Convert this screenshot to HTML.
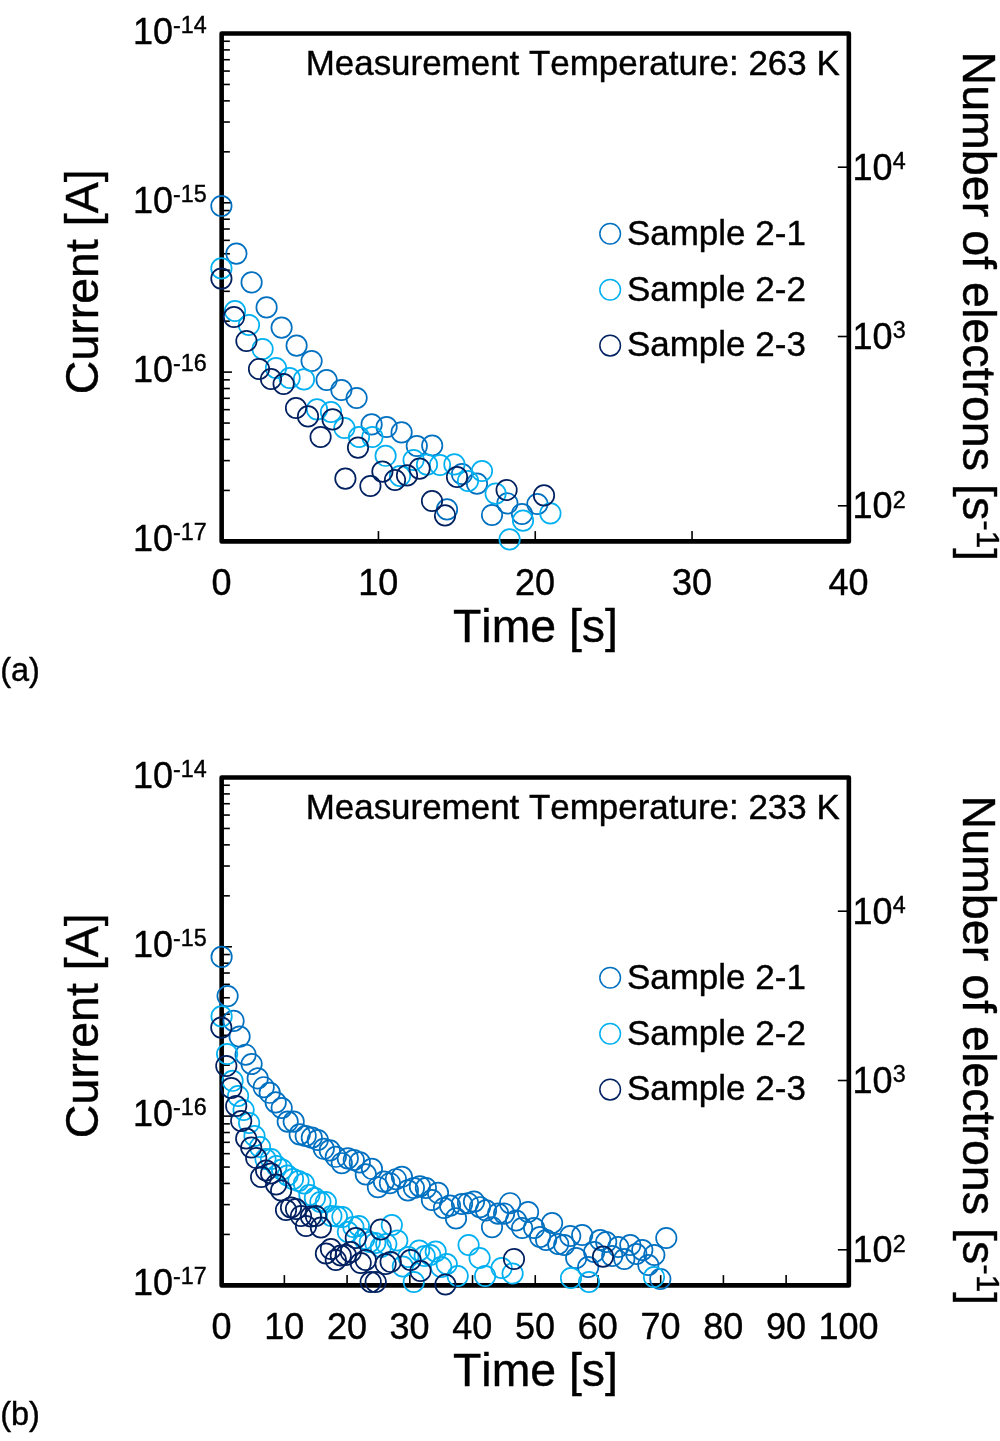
<!DOCTYPE html>
<html><head><meta charset="utf-8"><title>Current decay</title>
<style>
html,body{margin:0;padding:0;background:#fff}
body{width:1000px;height:1441px;overflow:hidden}
svg{display:block}
text{font-family:"Liberation Sans",sans-serif;fill:#000;font-kerning:none;stroke:#000;stroke-width:0.4px}
</style></head><body>
<svg width="1000" height="1441" viewBox="0 0 1000 1441">
<rect width="1000" height="1441" fill="#fff"/>
<g transform="translate(0,0)">
<g stroke="#000" stroke-width="1.6"><line x1="221.65" x2="229.85" y1="490.44" y2="490.44"/><line x1="221.65" x2="229.85" y1="460.62" y2="460.62"/><line x1="221.65" x2="229.85" y1="439.47" y2="439.47"/><line x1="221.65" x2="229.85" y1="423.06" y2="423.06"/><line x1="221.65" x2="229.85" y1="409.66" y2="409.66"/><line x1="221.65" x2="229.85" y1="398.32" y2="398.32"/><line x1="221.65" x2="229.85" y1="388.51" y2="388.51"/><line x1="221.65" x2="229.85" y1="379.85" y2="379.85"/><line x1="221.65" x2="231.95" y1="372.10" y2="372.10"/><line x1="221.65" x2="229.85" y1="321.14" y2="321.14"/><line x1="221.65" x2="229.85" y1="291.32" y2="291.32"/><line x1="221.65" x2="229.85" y1="270.17" y2="270.17"/><line x1="221.65" x2="229.85" y1="253.76" y2="253.76"/><line x1="221.65" x2="229.85" y1="240.36" y2="240.36"/><line x1="221.65" x2="229.85" y1="229.02" y2="229.02"/><line x1="221.65" x2="229.85" y1="219.21" y2="219.21"/><line x1="221.65" x2="229.85" y1="210.55" y2="210.55"/><line x1="221.65" x2="231.95" y1="202.80" y2="202.80"/><line x1="221.65" x2="229.85" y1="151.84" y2="151.84"/><line x1="221.65" x2="229.85" y1="122.02" y2="122.02"/><line x1="221.65" x2="229.85" y1="100.87" y2="100.87"/><line x1="221.65" x2="229.85" y1="84.46" y2="84.46"/><line x1="221.65" x2="229.85" y1="71.06" y2="71.06"/><line x1="221.65" x2="229.85" y1="59.72" y2="59.72"/><line x1="221.65" x2="229.85" y1="49.91" y2="49.91"/><line x1="221.65" x2="229.85" y1="41.25" y2="41.25"/><line x1="848.85" x2="837.85" y1="167.2" y2="167.2"/><line x1="848.85" x2="837.85" y1="336.5" y2="336.5"/><line x1="848.85" x2="837.85" y1="505.8" y2="505.8"/><line x1="378.45" x2="378.45" y1="541.4" y2="531.10"/><line x1="535.25" x2="535.25" y1="541.4" y2="531.10"/><line x1="692.05" x2="692.05" y1="541.4" y2="531.10"/></g>
<rect x="221.65" y="33.5" width="627.20" height="507.90" fill="none" stroke="#000" stroke-width="4.6" stroke-linejoin="round"/>
<g fill="none" stroke="#0070c0" stroke-width="1.7"><circle cx="221.4" cy="206.0" r="10.2"/><circle cx="236.4" cy="253.6" r="10.2"/><circle cx="251.6" cy="282.4" r="10.2"/><circle cx="266.6" cy="307.4" r="10.2"/><circle cx="281.6" cy="327.6" r="10.2"/><circle cx="296.6" cy="345.6" r="10.2"/><circle cx="311.6" cy="361.0" r="10.2"/><circle cx="326.6" cy="380.0" r="10.2"/><circle cx="341.4" cy="390.0" r="10.2"/><circle cx="356.6" cy="398.0" r="10.2"/><circle cx="371.6" cy="424.4" r="10.2"/><circle cx="386.6" cy="427.0" r="10.2"/><circle cx="401.6" cy="432.4" r="10.2"/><circle cx="416.8" cy="446.0" r="10.2"/><circle cx="432.2" cy="445.5" r="10.2"/><circle cx="447.0" cy="509.4" r="10.2"/><circle cx="462.0" cy="474.0" r="10.2"/><circle cx="477.0" cy="483.6" r="10.2"/><circle cx="492.0" cy="515.0" r="10.2"/><circle cx="507.4" cy="503.4" r="10.2"/><circle cx="522.0" cy="514.0" r="10.2"/><circle cx="537.4" cy="504.0" r="10.2"/></g>
<g fill="none" stroke="#00b0f0" stroke-width="1.7"><circle cx="221.4" cy="268.4" r="10.2"/><circle cx="235.0" cy="311.0" r="10.2"/><circle cx="249.0" cy="325.0" r="10.2"/><circle cx="262.6" cy="349.0" r="10.2"/><circle cx="276.0" cy="368.0" r="10.2"/><circle cx="289.6" cy="378.0" r="10.2"/><circle cx="304.0" cy="379.4" r="10.2"/><circle cx="317.0" cy="409.4" r="10.2"/><circle cx="331.0" cy="412.0" r="10.2"/><circle cx="344.4" cy="428.0" r="10.2"/><circle cx="359.0" cy="437.0" r="10.2"/><circle cx="372.4" cy="437.0" r="10.2"/><circle cx="385.6" cy="455.8" r="10.2"/><circle cx="400.0" cy="476.0" r="10.2"/><circle cx="413.6" cy="460.0" r="10.2"/><circle cx="427.0" cy="464.6" r="10.2"/><circle cx="440.0" cy="465.0" r="10.2"/><circle cx="454.4" cy="464.4" r="10.2"/><circle cx="468.0" cy="481.0" r="10.2"/><circle cx="482.0" cy="471.0" r="10.2"/><circle cx="495.6" cy="493.6" r="10.2"/><circle cx="509.6" cy="539.4" r="10.2"/><circle cx="523.0" cy="520.6" r="10.2"/><circle cx="550.4" cy="513.4" r="10.2"/></g>
<g fill="none" stroke="#002060" stroke-width="1.7"><circle cx="221.4" cy="278.6" r="10.2"/><circle cx="234.0" cy="317.0" r="10.2"/><circle cx="246.4" cy="341.0" r="10.2"/><circle cx="259.0" cy="369.0" r="10.2"/><circle cx="271.0" cy="379.0" r="10.2"/><circle cx="283.6" cy="384.0" r="10.2"/><circle cx="296.0" cy="408.0" r="10.2"/><circle cx="308.0" cy="416.4" r="10.2"/><circle cx="320.6" cy="437.0" r="10.2"/><circle cx="332.6" cy="419.4" r="10.2"/><circle cx="345.4" cy="478.6" r="10.2"/><circle cx="358.0" cy="447.6" r="10.2"/><circle cx="370.4" cy="486.0" r="10.2"/><circle cx="382.4" cy="471.6" r="10.2"/><circle cx="395.0" cy="480.0" r="10.2"/><circle cx="407.0" cy="475.4" r="10.2"/><circle cx="419.6" cy="468.6" r="10.2"/><circle cx="432.0" cy="501.0" r="10.2"/><circle cx="445.0" cy="515.4" r="10.2"/><circle cx="457.0" cy="477.0" r="10.2"/><circle cx="506.6" cy="490.0" r="10.2"/><circle cx="544.0" cy="495.4" r="10.2"/></g>
<g font-size="36" text-anchor="middle"><text x="221.5" y="594.7">0</text><text x="378.3" y="594.7">10</text><text x="535.0" y="594.7">20</text><text x="691.9" y="594.7">30</text><text x="848.6" y="594.7">40</text></g>
<g font-size="36"><text x="132.9" y="43.5">10<tspan font-size="23.3" dy="-11">-14</tspan></text><text x="132.9" y="212.8">10<tspan font-size="23.3" dy="-11">-15</tspan></text><text x="132.9" y="382.1">10<tspan font-size="23.3" dy="-11">-16</tspan></text><text x="132.9" y="551.4">10<tspan font-size="23.3" dy="-11">-17</tspan></text><text x="852.6" y="179.5">10<tspan font-size="23.3" dy="-10.5">4</tspan></text><text x="852.6" y="348.8">10<tspan font-size="23.3" dy="-10.5">3</tspan></text><text x="852.6" y="518.1">10<tspan font-size="23.3" dy="-10.5">2</tspan></text></g>
<text x="453" y="642" font-size="46.4">Time [s]</text>
<text transform="translate(98.3,394.2) rotate(-90)" font-size="46.5">Current [A]</text>
<text transform="translate(963.2,51.5) rotate(90)" font-size="46.6">Number of electrons [s<tspan font-size="31.5" dy="-14">-1</tspan><tspan dy="14">]</tspan></text>
<text x="305.7" y="75" font-size="34.95">Measurement Temperature: 263 K</text>
<circle cx="610.15" cy="233.8" r="10.3" fill="none" stroke="#0070c0" stroke-width="1.5"/><text x="626.9" y="244.6" font-size="35">Sample 2-1</text>
<circle cx="610.15" cy="289.7" r="10.3" fill="none" stroke="#00b0f0" stroke-width="1.5"/><text x="626.9" y="300.5" font-size="35">Sample 2-2</text>
<circle cx="610.15" cy="345.6" r="10.3" fill="none" stroke="#002060" stroke-width="1.5"/><text x="626.9" y="356.4" font-size="35">Sample 2-3</text>
</g>
<g transform="translate(0,744.0)">
<g stroke="#000" stroke-width="1.6"><line x1="221.65" x2="229.85" y1="490.44" y2="490.44"/><line x1="221.65" x2="229.85" y1="460.62" y2="460.62"/><line x1="221.65" x2="229.85" y1="439.47" y2="439.47"/><line x1="221.65" x2="229.85" y1="423.06" y2="423.06"/><line x1="221.65" x2="229.85" y1="409.66" y2="409.66"/><line x1="221.65" x2="229.85" y1="398.32" y2="398.32"/><line x1="221.65" x2="229.85" y1="388.51" y2="388.51"/><line x1="221.65" x2="229.85" y1="379.85" y2="379.85"/><line x1="221.65" x2="231.95" y1="372.10" y2="372.10"/><line x1="221.65" x2="229.85" y1="321.14" y2="321.14"/><line x1="221.65" x2="229.85" y1="291.32" y2="291.32"/><line x1="221.65" x2="229.85" y1="270.17" y2="270.17"/><line x1="221.65" x2="229.85" y1="253.76" y2="253.76"/><line x1="221.65" x2="229.85" y1="240.36" y2="240.36"/><line x1="221.65" x2="229.85" y1="229.02" y2="229.02"/><line x1="221.65" x2="229.85" y1="219.21" y2="219.21"/><line x1="221.65" x2="229.85" y1="210.55" y2="210.55"/><line x1="221.65" x2="231.95" y1="202.80" y2="202.80"/><line x1="221.65" x2="229.85" y1="151.84" y2="151.84"/><line x1="221.65" x2="229.85" y1="122.02" y2="122.02"/><line x1="221.65" x2="229.85" y1="100.87" y2="100.87"/><line x1="221.65" x2="229.85" y1="84.46" y2="84.46"/><line x1="221.65" x2="229.85" y1="71.06" y2="71.06"/><line x1="221.65" x2="229.85" y1="59.72" y2="59.72"/><line x1="221.65" x2="229.85" y1="49.91" y2="49.91"/><line x1="221.65" x2="229.85" y1="41.25" y2="41.25"/><line x1="848.85" x2="837.85" y1="167.2" y2="167.2"/><line x1="848.85" x2="837.85" y1="336.5" y2="336.5"/><line x1="848.85" x2="837.85" y1="505.8" y2="505.8"/><line x1="284.37" x2="284.37" y1="541.4" y2="531.10"/><line x1="347.09" x2="347.09" y1="541.4" y2="531.10"/><line x1="409.81" x2="409.81" y1="541.4" y2="531.10"/><line x1="472.53" x2="472.53" y1="541.4" y2="531.10"/><line x1="535.25" x2="535.25" y1="541.4" y2="531.10"/><line x1="597.97" x2="597.97" y1="541.4" y2="531.10"/><line x1="660.69" x2="660.69" y1="541.4" y2="531.10"/><line x1="723.41" x2="723.41" y1="541.4" y2="531.10"/><line x1="786.13" x2="786.13" y1="541.4" y2="531.10"/></g>
<rect x="221.65" y="33.5" width="627.20" height="507.90" fill="none" stroke="#000" stroke-width="4.6" stroke-linejoin="round"/>
<g fill="none" stroke="#0070c0" stroke-width="1.7"><circle cx="221.6" cy="212.9" r="10.2"/><circle cx="227.6" cy="252.1" r="10.2"/><circle cx="233.6" cy="276.9" r="10.2"/><circle cx="239.6" cy="292.6" r="10.2"/><circle cx="245.6" cy="310.7" r="10.2"/><circle cx="251.6" cy="320.0" r="10.2"/><circle cx="257.7" cy="334.4" r="10.2"/><circle cx="263.7" cy="343.2" r="10.2"/><circle cx="269.7" cy="348.8" r="10.2"/><circle cx="275.7" cy="358.4" r="10.2"/><circle cx="281.7" cy="364.0" r="10.2"/><circle cx="287.7" cy="377.6" r="10.2"/><circle cx="293.7" cy="377.6" r="10.2"/><circle cx="299.7" cy="390.4" r="10.2"/><circle cx="305.7" cy="392.0" r="10.2"/><circle cx="311.8" cy="393.6" r="10.2"/><circle cx="317.8" cy="396.0" r="10.2"/><circle cx="323.8" cy="404.8" r="10.2"/><circle cx="329.8" cy="406.4" r="10.2"/><circle cx="335.8" cy="412.8" r="10.2"/><circle cx="341.8" cy="419.2" r="10.2"/><circle cx="347.8" cy="414.4" r="10.2"/><circle cx="353.8" cy="416.0" r="10.2"/><circle cx="359.8" cy="418.4" r="10.2"/><circle cx="365.8" cy="430.4" r="10.2"/><circle cx="371.9" cy="424.8" r="10.2"/><circle cx="377.9" cy="443.2" r="10.2"/><circle cx="383.9" cy="437.6" r="10.2"/><circle cx="389.9" cy="439.2" r="10.2"/><circle cx="395.9" cy="435.2" r="10.2"/><circle cx="401.9" cy="432.8" r="10.2"/><circle cx="407.9" cy="446.4" r="10.2"/><circle cx="413.9" cy="444.0" r="10.2"/><circle cx="419.9" cy="442.4" r="10.2"/><circle cx="425.9" cy="444.0" r="10.2"/><circle cx="431.9" cy="456.0" r="10.2"/><circle cx="438.0" cy="448.8" r="10.2"/><circle cx="444.0" cy="464.0" r="10.2"/><circle cx="450.0" cy="461.6" r="10.2"/><circle cx="456.0" cy="474.4" r="10.2"/><circle cx="462.0" cy="460.0" r="10.2"/><circle cx="468.0" cy="459.2" r="10.2"/><circle cx="474.0" cy="457.6" r="10.2"/><circle cx="480.0" cy="463.2" r="10.2"/><circle cx="486.0" cy="466.4" r="10.2"/><circle cx="492.0" cy="483.2" r="10.2"/><circle cx="498.1" cy="469.6" r="10.2"/><circle cx="504.1" cy="469.6" r="10.2"/><circle cx="510.1" cy="459.2" r="10.2"/><circle cx="516.1" cy="476.5" r="10.2"/><circle cx="522.1" cy="484.0" r="10.2"/><circle cx="528.1" cy="468.0" r="10.2"/><circle cx="534.1" cy="484.0" r="10.2"/><circle cx="540.1" cy="493.0" r="10.2"/><circle cx="546.1" cy="496.0" r="10.2"/><circle cx="552.1" cy="479.0" r="10.2"/><circle cx="558.2" cy="500.0" r="10.2"/><circle cx="564.2" cy="501.0" r="10.2"/><circle cx="570.2" cy="492.0" r="10.2"/><circle cx="576.2" cy="514.0" r="10.2"/><circle cx="582.2" cy="491.0" r="10.2"/><circle cx="588.2" cy="523.0" r="10.2"/><circle cx="594.2" cy="508.0" r="10.2"/><circle cx="600.2" cy="496.0" r="10.2"/><circle cx="606.2" cy="498.0" r="10.2"/><circle cx="612.2" cy="512.0" r="10.2"/><circle cx="618.3" cy="503.0" r="10.2"/><circle cx="624.3" cy="515.0" r="10.2"/><circle cx="630.3" cy="501.0" r="10.2"/><circle cx="636.3" cy="510.0" r="10.2"/><circle cx="642.3" cy="506.0" r="10.2"/><circle cx="648.3" cy="521.0" r="10.2"/><circle cx="654.3" cy="511.0" r="10.2"/><circle cx="660.3" cy="535.0" r="10.2"/><circle cx="666.3" cy="494.0" r="10.2"/></g>
<g fill="none" stroke="#00b0f0" stroke-width="1.7"><circle cx="221.6" cy="272.4" r="10.2"/><circle cx="227.1" cy="310.0" r="10.2"/><circle cx="232.6" cy="336.8" r="10.2"/><circle cx="238.1" cy="352.0" r="10.2"/><circle cx="243.6" cy="366.0" r="10.2"/><circle cx="249.1" cy="379.0" r="10.2"/><circle cx="254.5" cy="392.0" r="10.2"/><circle cx="260.0" cy="403.0" r="10.2"/><circle cx="265.5" cy="415.0" r="10.2"/><circle cx="271.0" cy="415.0" r="10.2"/><circle cx="276.5" cy="422.0" r="10.2"/><circle cx="282.0" cy="425.5" r="10.2"/><circle cx="287.5" cy="431.5" r="10.2"/><circle cx="293.0" cy="435.0" r="10.2"/><circle cx="298.5" cy="437.0" r="10.2"/><circle cx="303.9" cy="439.5" r="10.2"/><circle cx="309.4" cy="451.0" r="10.2"/><circle cx="314.9" cy="454.0" r="10.2"/><circle cx="320.4" cy="458.0" r="10.2"/><circle cx="325.9" cy="458.0" r="10.2"/><circle cx="331.4" cy="472.0" r="10.2"/><circle cx="336.9" cy="472.5" r="10.2"/><circle cx="342.4" cy="473.0" r="10.2"/><circle cx="347.9" cy="488.0" r="10.2"/><circle cx="353.4" cy="483.0" r="10.2"/><circle cx="358.9" cy="482.0" r="10.2"/><circle cx="364.3" cy="495.0" r="10.2"/><circle cx="369.8" cy="498.0" r="10.2"/><circle cx="375.3" cy="499.0" r="10.2"/><circle cx="380.8" cy="503.0" r="10.2"/><circle cx="386.3" cy="500.0" r="10.2"/><circle cx="391.8" cy="481.0" r="10.2"/><circle cx="397.3" cy="496.5" r="10.2"/><circle cx="402.8" cy="522.5" r="10.2"/><circle cx="408.3" cy="513.0" r="10.2"/><circle cx="413.8" cy="538.0" r="10.2"/><circle cx="419.2" cy="506.5" r="10.2"/><circle cx="424.7" cy="512.0" r="10.2"/><circle cx="430.2" cy="511.0" r="10.2"/><circle cx="435.7" cy="507.5" r="10.2"/><circle cx="441.2" cy="523.0" r="10.2"/><circle cx="446.7" cy="520.0" r="10.2"/><circle cx="457.7" cy="532.0" r="10.2"/><circle cx="468.6" cy="501.0" r="10.2"/><circle cx="479.6" cy="514.0" r="10.2"/><circle cx="485.1" cy="532.0" r="10.2"/><circle cx="501.6" cy="524.0" r="10.2"/><circle cx="512.6" cy="529.5" r="10.2"/><circle cx="571.0" cy="534.0" r="10.2"/><circle cx="589.0" cy="538.0" r="10.2"/><circle cx="654.0" cy="533.0" r="10.2"/></g>
<g fill="none" stroke="#002060" stroke-width="1.7"><circle cx="221.3" cy="283.6" r="10.2"/><circle cx="226.3" cy="322.0" r="10.2"/><circle cx="231.3" cy="344.0" r="10.2"/><circle cx="236.2" cy="362.0" r="10.2"/><circle cx="241.2" cy="377.0" r="10.2"/><circle cx="246.2" cy="394.5" r="10.2"/><circle cx="251.2" cy="403.5" r="10.2"/><circle cx="256.2" cy="414.0" r="10.2"/><circle cx="261.1" cy="433.0" r="10.2"/><circle cx="266.1" cy="426.5" r="10.2"/><circle cx="271.1" cy="429.5" r="10.2"/><circle cx="276.1" cy="440.5" r="10.2"/><circle cx="281.1" cy="446.5" r="10.2"/><circle cx="286.0" cy="466.0" r="10.2"/><circle cx="291.0" cy="463.5" r="10.2"/><circle cx="296.0" cy="465.0" r="10.2"/><circle cx="301.0" cy="472.0" r="10.2"/><circle cx="306.0" cy="482.0" r="10.2"/><circle cx="310.9" cy="472.5" r="10.2"/><circle cx="315.9" cy="472.0" r="10.2"/><circle cx="320.9" cy="483.5" r="10.2"/><circle cx="325.9" cy="509.5" r="10.2"/><circle cx="330.9" cy="505.0" r="10.2"/><circle cx="335.8" cy="516.0" r="10.2"/><circle cx="340.8" cy="511.5" r="10.2"/><circle cx="345.8" cy="511.0" r="10.2"/><circle cx="350.8" cy="508.0" r="10.2"/><circle cx="355.8" cy="494.0" r="10.2"/><circle cx="360.7" cy="519.0" r="10.2"/><circle cx="365.7" cy="516.0" r="10.2"/><circle cx="370.7" cy="538.0" r="10.2"/><circle cx="375.7" cy="538.0" r="10.2"/><circle cx="380.7" cy="485.5" r="10.2"/><circle cx="385.6" cy="520.0" r="10.2"/><circle cx="390.6" cy="518.0" r="10.2"/><circle cx="410.5" cy="516.0" r="10.2"/><circle cx="420.5" cy="527.0" r="10.2"/><circle cx="445.4" cy="540.5" r="10.2"/><circle cx="514.0" cy="515.0" r="10.2"/><circle cx="603.0" cy="512.6" r="10.2"/></g>
<g font-size="36" text-anchor="middle"><text x="221.5" y="594.7">0</text><text x="284.2" y="594.7">10</text><text x="346.9" y="594.7">20</text><text x="409.6" y="594.7">30</text><text x="472.3" y="594.7">40</text><text x="535.0" y="594.7">50</text><text x="597.8" y="594.7">60</text><text x="660.5" y="594.7">70</text><text x="723.2" y="594.7">80</text><text x="785.9" y="594.7">90</text><text x="848.6" y="594.7">100</text></g>
<g font-size="36"><text x="132.9" y="43.5">10<tspan font-size="23.3" dy="-11">-14</tspan></text><text x="132.9" y="212.8">10<tspan font-size="23.3" dy="-11">-15</tspan></text><text x="132.9" y="382.1">10<tspan font-size="23.3" dy="-11">-16</tspan></text><text x="132.9" y="551.4">10<tspan font-size="23.3" dy="-11">-17</tspan></text><text x="852.6" y="179.5">10<tspan font-size="23.3" dy="-10.5">4</tspan></text><text x="852.6" y="348.8">10<tspan font-size="23.3" dy="-10.5">3</tspan></text><text x="852.6" y="518.1">10<tspan font-size="23.3" dy="-10.5">2</tspan></text></g>
<text x="453" y="642" font-size="46.4">Time [s]</text>
<text transform="translate(98.3,394.2) rotate(-90)" font-size="46.5">Current [A]</text>
<text transform="translate(963.2,51.5) rotate(90)" font-size="46.6">Number of electrons [s<tspan font-size="31.5" dy="-14">-1</tspan><tspan dy="14">]</tspan></text>
<text x="305.7" y="75" font-size="34.95">Measurement Temperature: 233 K</text>
<circle cx="610.15" cy="233.8" r="10.3" fill="none" stroke="#0070c0" stroke-width="1.5"/><text x="626.9" y="244.6" font-size="35">Sample 2-1</text>
<circle cx="610.15" cy="289.7" r="10.3" fill="none" stroke="#00b0f0" stroke-width="1.5"/><text x="626.9" y="300.5" font-size="35">Sample 2-2</text>
<circle cx="610.15" cy="345.6" r="10.3" fill="none" stroke="#002060" stroke-width="1.5"/><text x="626.9" y="356.4" font-size="35">Sample 2-3</text>
</g>
<text x="0.2" y="681" font-size="32.5">(a)</text>
<text x="0.2" y="1425" font-size="32.5">(b)</text>
</svg></body></html>
